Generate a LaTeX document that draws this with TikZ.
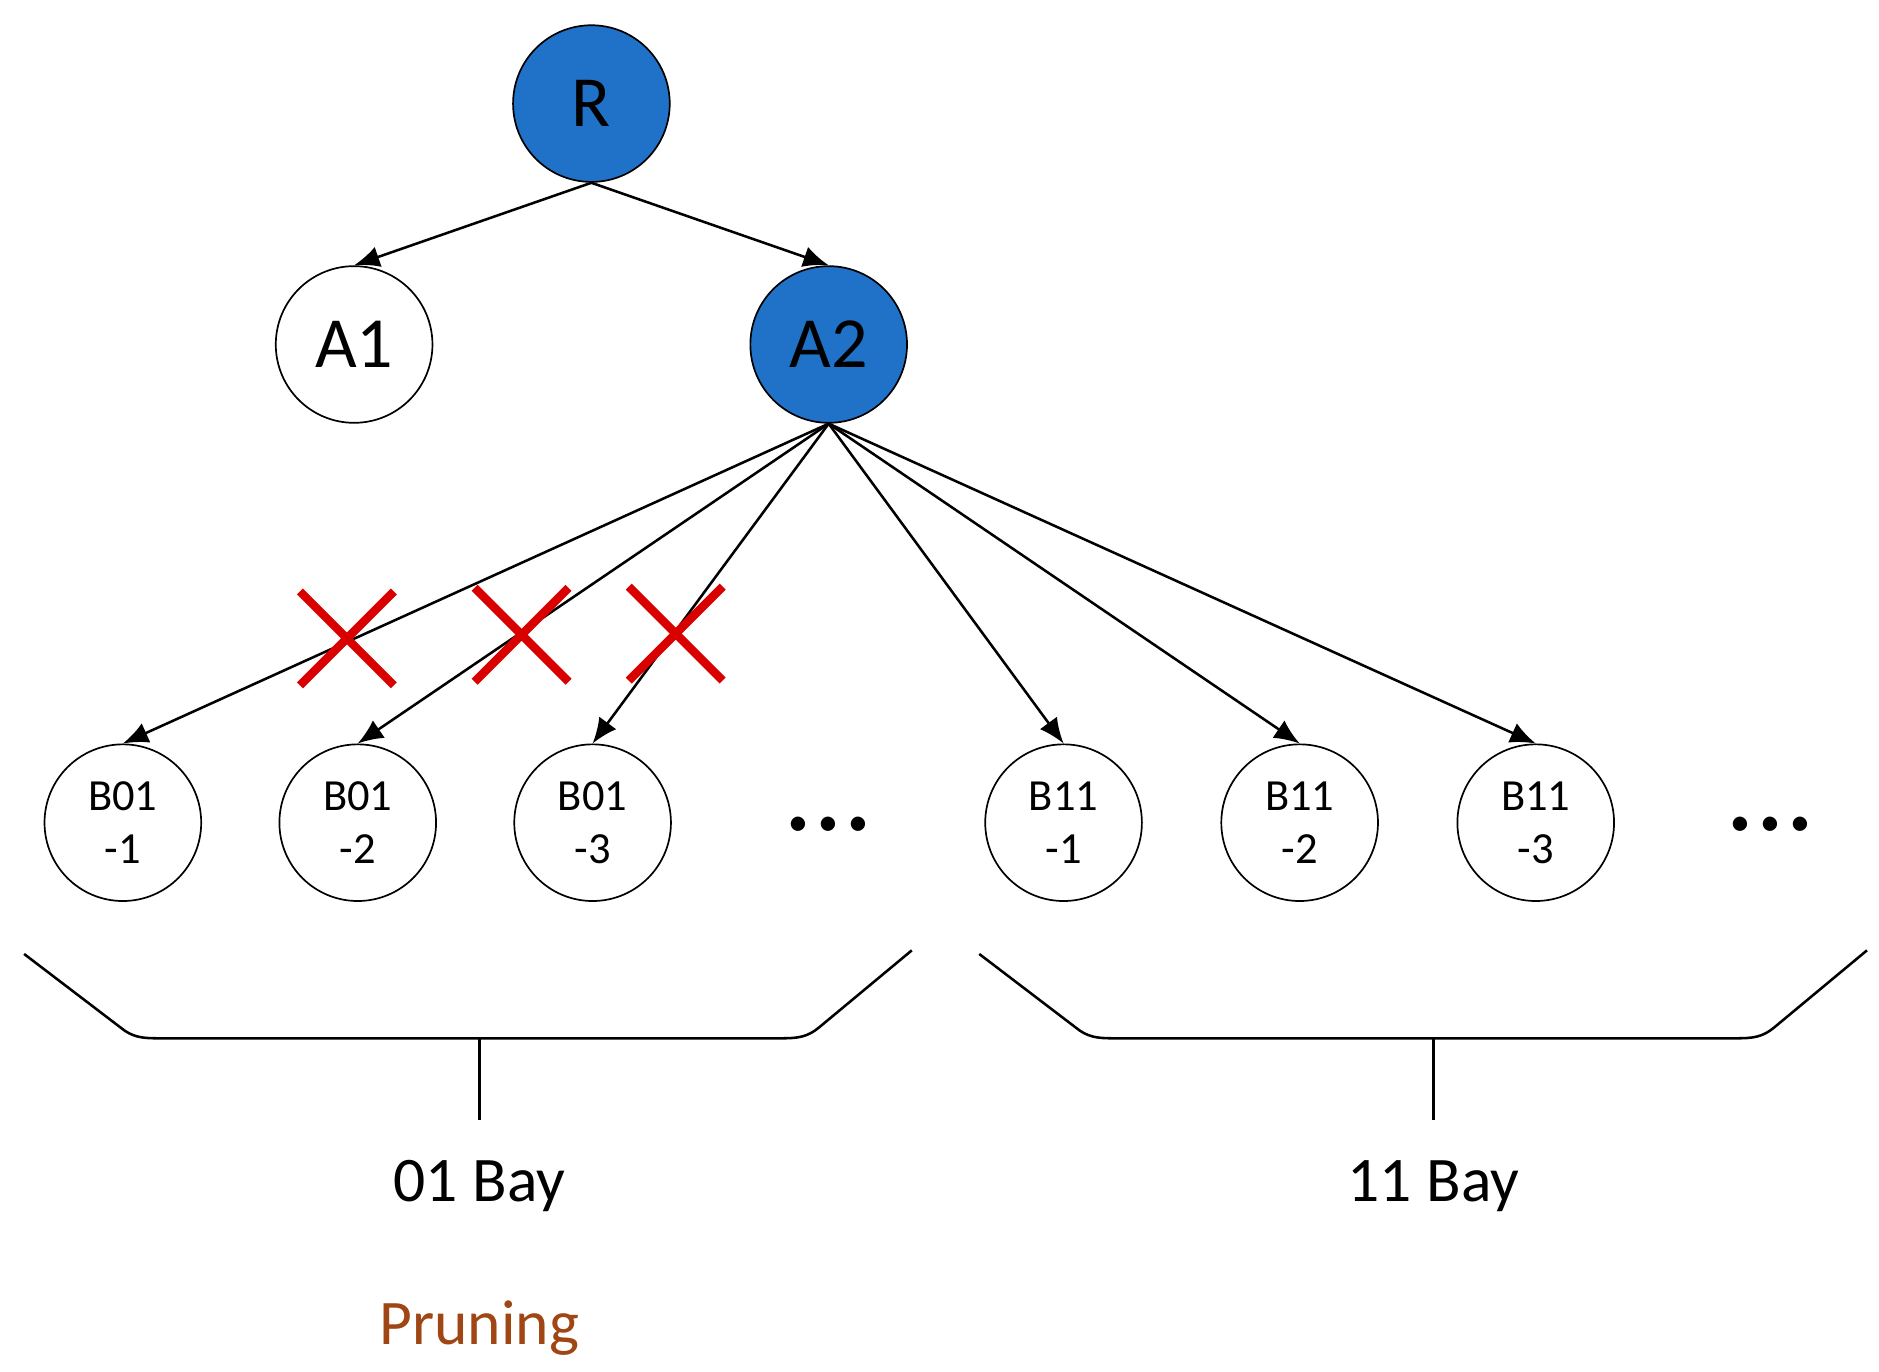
\documentclass[tikz,border=0pt]{standalone}
\usepackage{fontspec}
\setmainfont{Carlito}
\usetikzlibrary{arrows.meta}
\definecolor{nodeblue}{RGB}{32,114,200}
\definecolor{prunebrown}{RGB}{160,70,20}
\begin{document}
\begin{tikzpicture}[x=0.01cm,y=-0.01cm,
    big/.style={circle,draw,thin,minimum size=1.3cm,inner sep=0pt,font=\fontsize{17}{17}\selectfont},
    small/.style={circle,draw,thin,minimum size=1.3cm,inner sep=0pt,align=center,font=\fontsize{10.5}{12.5}\selectfont},
    arr/.style={semithick,-{Latex[length=6pt,width=5pt]}},
    cross/.style={red!85!black,line width=2pt}]
    \useasboundingbox (0,0) rectangle (1560,1139);
    % noeuds
    \node[big,fill=nodeblue] (R) at (491,86) {R};
    \node[big] (A1) at (294,286) {A1};
    \node[big,fill=nodeblue] (A2) at (688,286) {A2};
    \node[small] (B011) at (102,683) {B01\\-1};
    \node[small] (B012) at (297,683) {B01\\-2};
    \node[small] (B013) at (492,683) {B01\\-3};
    \node[small] (B111) at (883,683) {B11\\-1};
    \node[small] (B112) at (1079,683) {B11\\-2};
    \node[small] (B113) at (1275,683) {B11\\-3};
    \node[font=\fontsize{28}{28}\selectfont] (d1) at (688,684) {...};
    \node[font=\fontsize{28}{28}\selectfont] (d2) at (1470,684) {...};
    % aretes
    \draw[arr] (R.south) -- (A1.north);
    \draw[arr] (R.south) -- (A2.north);
    \foreach \b in {B011,B012,B013,B111,B112,B113}
        \draw[arr] (A2.south) -- (\b.north);
    % croix
    \foreach \cx/\cy in {288/530,433/527,561/526}
        \draw[cross] (\cx-39,\cy-39) -- (\cx+39,\cy+39) (\cx-39,\cy+39) -- (\cx+39,\cy-39);
    % accolades
    \draw[semithick] (20,792) -- (100,853) to[out=-40,in=180] (130,862) -- (650,862) to[out=0,in=-140] (680,853) -- (757,789);
    \draw[semithick] (398,862) -- (398,930);
    \draw[semithick] (813,792) -- (893,853) to[out=-40,in=180] (923,862) -- (1443,862) to[out=0,in=-140] (1473,853) -- (1550,789);
    \draw[semithick] (1190,862) -- (1190,930);
    \node[font=\fontsize{15}{15}\selectfont] (bay01) at (398,985) {01 Bay};
    \node[font=\fontsize{15}{15}\selectfont] (bay11) at (1190,985) {11 Bay};
    \node[font=\fontsize{15}{15}\selectfont,text=prunebrown] (prune) at (398,1103) {Pruning};
\end{tikzpicture}
\end{document}
